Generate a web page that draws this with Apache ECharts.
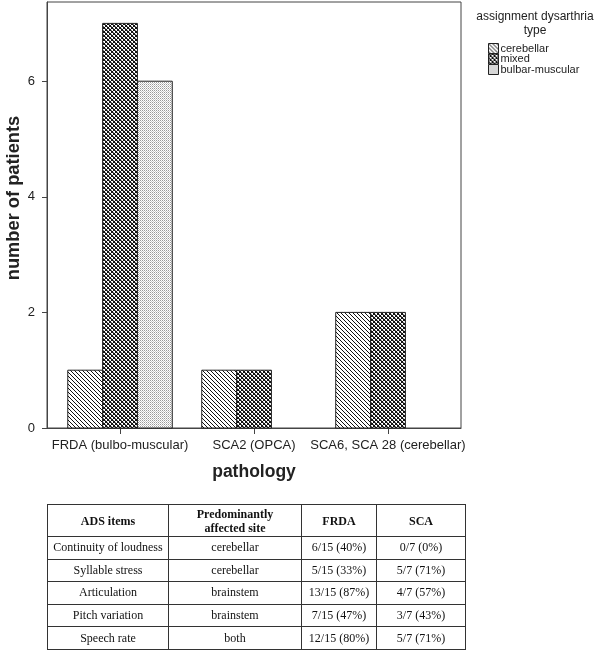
<!DOCTYPE html>
<html>
<head>
<meta charset="utf-8">
<title></title>
<style type="text/css">
	body { margin: 0; background: #fff; }
	#main { position: absolute; left: 0; top: 0; width: 599px; height: 650px; }
	table.ads {
		position: absolute; left: 47px; top: 504px; width: 418px;
		border-collapse: collapse; font-family: "Liberation Serif", serif;
		font-size: 12px; color: #111; table-layout: fixed;
	}
	table.ads td, table.ads th { border: 1px solid #333; text-align: center; padding: 0; height: 21.6px; }
	table.ads th { font-size: 12px; font-weight: bold; height: 31px; line-height: 14px; }
</style>
</head>
<body>
	<div id="main"></div>
	<table class="ads" id="ads"></table>
	<script src="https://cdn.jsdelivr.net/npm/echarts@6/dist/echarts.min.js"></script>
	<script>
	// chart data
	var categories = ['FRDA (bulbo-muscular)', 'SCA2 (OPCA)', 'SCA6, SCA 28 (cerebellar)'];
	var typeNames = ['cerebellar', 'mixed', 'bulbar-muscular'];
	var cerebellar = [1, 1, 2];
	var mixed = [7, 1, 2];
	var bulbar = [6, 0, 0];
	var yTicks = [0, 2, 4, 6];
	var xTicks = [0, 1, 2];

	// table data
	var tableHead = ['ADS items', 'Predominantly<br>affected site', 'FRDA', 'SCA'];
	var adsItems = ['Continuity of loudness', 'Syllable stress', 'Articulation', 'Pitch variation', 'Speech rate'];
	var affectedSite = ['cerebellar', 'cerebellar', 'brainstem', 'brainstem', 'both'];
	var frdaVals = ['6/15 (40%)', '5/15 (33%)', '13/15 (87%)', '7/15 (47%)', '12/15 (80%)'];
	var scaVals = ['0/7 (0%)', '5/7 (71%)', '4/7 (57%)', '3/7 (43%)', '5/7 (71%)'];

	var values = [cerebellar, mixed, bulbar];

	// hatch fills
	function makePattern(kind) {
		var c = document.createElement('canvas');
		c.width = 4; c.height = 4;
		var g = c.getContext('2d');
		g.fillStyle = '#fff';
		g.fillRect(0, 0, 4, 4);
		var i;
		if (kind == 0) {
			g.fillStyle = '#111';
			for (i = 0; i < 4; i++) g.fillRect(i, i, 1, 1);
		} else if (kind == 1) {
			g.fillStyle = '#111';
			for (i = 0; i < 4; i++) { g.fillRect(i, i, 1, 1); g.fillRect(i, 3 - i, 1, 1); }
			g.fillStyle = '#777';
			g.fillRect(1, 0, 1, 1); g.fillRect(3, 2, 1, 1);
		} else {
			g.fillStyle = '#999';
			g.fillRect(0, 0, 1, 1); g.fillRect(2, 2, 1, 1);
			g.fillRect(2, 0, 1, 1); g.fillRect(0, 2, 1, 1);
			g.fillStyle = '#c8c8c8';
			g.fillRect(1, 1, 1, 1); g.fillRect(3, 3, 1, 1);
			g.fillRect(3, 1, 1, 1); g.fillRect(1, 3, 1, 1);
		}
		return { image: c, repeat: 'repeat' };
	}
	var patterns = [makePattern(0), makePattern(1), makePattern(2)];

	// three slots per group, a zero leaves its slot empty
	function renderItem(params, api) {
		var si = params.seriesIndex;
		var v = api.value(1);
		if (!(v > 0)) return;
		var cat = api.value(0);
		var base = api.coord([cat, 0]);
		var top = api.coord([cat, v]);
		var w = api.size([1, 0])[0] * 0.26;
		var x0 = base[0] - 1.5 * w + si * w;
		return {
			type: 'rect',
			shape: { x: x0, y: top[1], width: w, height: base[1] - top[1] },
			style: { fill: patterns[si], stroke: '#222', lineWidth: 1 }
		};
	}

	var series = [];
	for (var s = 0; s < values.length; s++) {
		series.push({
			name: typeNames[s],
			type: 'custom',
			renderItem: renderItem,
			itemStyle: { color: patterns[s], borderColor: '#222', borderWidth: 1 },
			encode: { x: 0, y: 1 },
			data: values[s].map(function(v, i) { return [i, v]; })
		});
	}

	var option = {
		animation: false,
		textStyle: { fontFamily: 'Liberation Sans' },
		title: {
			text: 'assignment dysarthria\ntype',
			left: 530, top: 5, textAlign: 'center',
			textStyle: { fontSize: 12, fontWeight: 'normal', color: '#222', lineHeight: 14, align: 'center' }
		},
		legend: {
			orient: 'vertical', left: 483, top: 38,
			itemWidth: 10, itemHeight: 10, itemGap: -0.5,
			icon: 'rect',
			itemStyle: { borderColor: '#222', borderWidth: 1 },
			textStyle: { fontSize: 11, color: '#222', padding: [0, 0, 0, -3] },
			data: typeNames
		},
		grid: {
			left: 47, top: 2, right: 138, bottom: 222,
			outerBoundsMode: 'none',
			show: true, borderColor: '#444', borderWidth: 1, backgroundColor: '#fff'
		},
		xAxis: {
			type: 'value',
			min: -0.545, max: 2.545,
			name: 'pathology',
			nameLocation: 'middle',
			nameGap: 35,
			nameMoveOverlap: false,
			nameTextStyle: { fontSize: 17.5, fontWeight: 'bold', color: '#222' },
			splitLine: { show: false },
			axisLine: { onZero: false, lineStyle: { color: '#444' } },
			axisTick: { show: true, length: 6, customValues: xTicks, lineStyle: { color: '#444' } },
			axisLabel: {
				fontSize: 13, color: '#222', margin: 11, customValues: xTicks,
				formatter: function(v) { return categories[Math.round(v)]; }
			}
		},
		yAxis: {
			type: 'value',
			min: 0, max: 7.37, interval: 2,
			name: 'number of patients',
			nameLocation: 'middle',
			nameGap: 24,
			nameMoveOverlap: false,
			nameTextStyle: { fontSize: 18.3, fontWeight: 'bold', color: '#222', padding: [0, 0, 0, 34] },
			splitLine: { show: false },
			axisLine: { show: true, onZero: false, lineStyle: { color: '#444' } },
			axisTick: { show: true, length: 5, customValues: yTicks, lineStyle: { color: '#444' } },
			axisLabel: { fontSize: 13, color: '#222', margin: 12, customValues: yTicks }
		},
		series: series
	};

	var myChart = echarts.init(document.getElementById('main'));
	myChart.setOption(option, true);

	// table below the chart
	var html = '<colgroup><col style="width:121px"><col style="width:133px"><col style="width:75px"><col style="width:89px"></colgroup>';
	html += '<tr>' + tableHead.map(function(h) { return '<th>' + h + '</th>'; }).join('') + '</tr>';
	for (var r = 0; r < adsItems.length; r++) {
		html += '<tr><td>' + adsItems[r] + '</td><td>' + affectedSite[r] + '</td><td>' + frdaVals[r] + '</td><td>' + scaVals[r] + '</td></tr>';
	}
	document.getElementById('ads').innerHTML = html;
	</script>
</body>
</html>
